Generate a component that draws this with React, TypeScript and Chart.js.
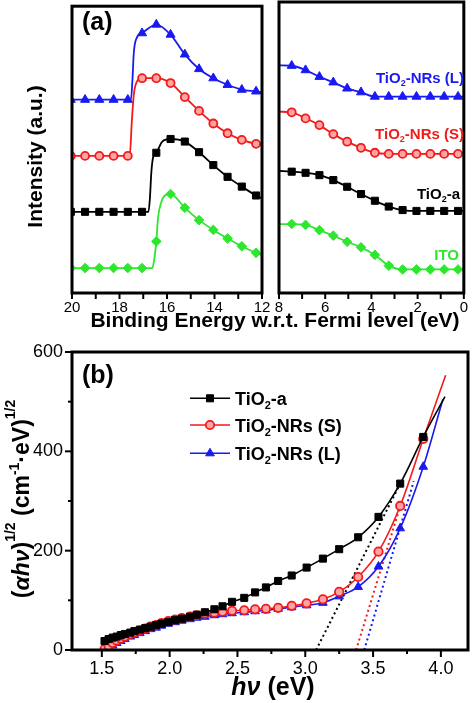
import React, { useEffect, useRef } from 'react';
import { Chart, registerables } from 'chart.js';

Chart.register(...registerables);

const FF = '"Liberation Sans", Arial, Helvetica, sans-serif';
const BLACK = '#000000';
const RED = '#f21a1a';
const RED_FILL = '#ffa4a4';
const BLUE = '#1a1af0';
const GREEN = '#2ee62e';

// ---------- Panel (a), left: binding energy 20 -> 12 eV (intensity, a.u., offset traces)
const aLeftMarkE = [20.05, 19.45, 18.85, 18.25, 17.65, 17.05, 16.45, 15.85, 15.25, 14.65, 14.05, 13.45, 12.85, 12.25];
const aLeftNRsL = [67.4, 67.4, 67.4, 67.4, 67.4, 90.6, 93.6, 90.1, 83.2, 78.1, 74.9, 72.6, 70.9, 70.3];
const aLeftNRsS = [47.8, 47.8, 47.8, 47.8, 47.8, 74.9, 74.9, 73.2, 68.3, 63.5, 59.1, 55.7, 53.4, 52.0];
const aLeftTiO2a = [28.3, 28.3, 28.3, 28.3, 28.3, 28.3, 48.9, 53.7, 52.8, 49.1, 44.6, 40.5, 37.1, 34.0];
const aLeftITO = [8.7, 8.7, 8.7, 8.7, 8.7, 8.7, 18.0, 34.5, 29.7, 25.4, 22.0, 19.0, 16.3, 14.0];
// trace points between markers (onset edge and trace end)
const aLeftNRsLKnotE = [17.52, 17.45, 17.4, 17.3, 12.0];
const aLeftNRsLKnotV = [67.4, 75.0, 83.5, 88.5, 70.0];
const aLeftNRsSKnotE = [17.57, 17.48, 17.4, 17.28, 12.0];
const aLeftNRsSKnotV = [47.8, 60.0, 69.0, 73.5, 51.6];
const aLeftTiO2aKnotE = [16.78, 16.72, 16.66, 16.58, 16.2, 12.0];
const aLeftTiO2aKnotV = [28.3, 33.0, 42.0, 47.5, 52.8, 33.0];
const aLeftITOKnotE = [16.62, 16.55, 16.38, 16.25, 16.05, 12.0];
const aLeftITOKnotV = [8.7, 11.0, 26.0, 31.5, 34.2, 13.2];

// ---------- Panel (a), right: binding energy 8 -> 0 eV (valence band region)
const aRightMarkE = [7.45, 6.85, 6.25, 5.65, 5.05, 4.45, 3.85, 3.25, 2.65, 2.05, 1.45, 0.85, 0.25];
const aRightNRsL = [78.1, 76.6, 74.3, 72.4, 70.3, 69.0, 67.5, 67.5, 67.5, 67.5, 67.5, 67.5, 67.5];
const aRightNRsS = [62.1, 60.0, 57.7, 54.6, 52.0, 49.9, 48.2, 47.8, 47.8, 47.8, 47.8, 47.8, 47.8];
const aRightTiO2a = [41.7, 41.3, 40.5, 38.8, 36.5, 34.0, 31.7, 29.7, 28.5, 28.2, 28.2, 28.2, 28.2];
const aRightITO = [23.7, 23.4, 21.6, 19.7, 17.6, 15.7, 13.1, 9.4, 8.1, 8.1, 8.1, 8.1, 8.1];
const aRightKnotE = [8.0, 0.0];
const aRightNRsLKnotV = [78.2, 67.5];
const aRightNRsSKnotV = [62.3, 47.8];
const aRightTiO2aKnotV = [42.0, 28.2];
const aRightITOKnotV = [23.7, 8.1];

// ---------- Panel (b): Tauc plot, hv (eV) vs (alpha h v)^1/2
const bE = [1.52, 1.55, 1.58, 1.61, 1.64, 1.67, 1.71, 1.74, 1.78, 1.82, 1.86, 1.90, 1.94, 1.99, 2.04, 2.09, 2.15, 2.20, 2.26, 2.33, 2.39, 2.46, 2.55, 2.63, 2.71, 2.80, 2.90, 3.01, 3.13, 3.25, 3.39, 3.54, 3.70, 3.87];
const bTiO2a = [18, 22, 25, 27, 30, 32, 35, 38, 41, 44, 47, 50, 53, 56, 60, 63, 67, 71, 76, 82, 88, 97, 105, 116, 126, 139, 150, 166, 184, 203, 227, 268, 335, 429];
const bNRsS = [2, 8, 14, 19, 23, 27, 32, 35, 39, 43, 47, 50, 54, 58, 61, 64, 67, 70, 73, 75, 77, 79, 80, 82, 83, 85, 89, 94, 102, 117, 147, 198, 290, 425];
const bNRsL = [0, 4, 9, 14, 18, 22, 27, 30, 34, 38, 42, 45, 49, 53, 56, 59, 62, 65, 67, 70, 72, 74, 76, 78, 80, 83, 86, 90, 95, 108, 127, 168, 245, 369];
const bTailE_a = [4.03];
const bTailV_a = [510];
const bTailE_S = [4.035];
const bTailV_S = [553];
const bTailE_L = [4.015];
const bTailV_L = [505];
// linear extrapolations (dotted)
const bFitE_a = [3.08, 3.7];
const bFitV_a = [0, 335];
const bFitE_S = [3.375, 3.71];
const bFitV_S = [0, 298];
const bFitE_L = [3.435, 3.8];
const bFitV_L = [0, 340];

const seriesLabels = ['TiO\u2082-a', 'TiO\u2082-NRs (S)', 'TiO\u2082-NRs (L)', 'ITO'];
const seriesSuffix = ['-a', '-NRs (S)', '-NRs (L)'];

type Pt = { x: number; y: number; m: boolean };

function mergePts(markE: number[], markV: number[], knotE: number[], knotV: number[], desc: boolean): Pt[] {
  const pts: Pt[] = markE.map((x, i) => ({ x, y: markV[i], m: true }))
    .concat(knotE.map((x, i) => ({ x, y: knotV[i], m: false })));
  pts.sort((p, q) => (desc ? q.x - p.x : p.x - q.x));
  return pts;
}

function curveDs(label: string, pts: Pt[], color: string, style: string, r: number, fill: string, bw: number, lw: number) {
  return {
    label,
    data: pts,
    borderColor: color,
    borderWidth: lw,
    pointStyle: style,
    pointRadius: (c: any) => (c.raw && c.raw.m ? r : 0),
    pointBackgroundColor: fill,
    pointBorderColor: color,
    pointBorderWidth: bw,
    cubicInterpolationMode: 'monotone',
    fill: false,
  };
}

type Seg = { t: string; size: number; style?: string; dy?: number };
const segFont = (s: Seg) => `${s.style || 'bold'} ${s.size}px ${FF}`;

function drawRich(ctx: CanvasRenderingContext2D, segs: Seg[], x: number, y: number, align: 'left' | 'center' | 'right') {
  let w = 0;
  segs.forEach((s) => { ctx.font = segFont(s); w += ctx.measureText(s.t).width; });
  let cx = align === 'left' ? x : align === 'right' ? x - w : x - w / 2;
  ctx.textAlign = 'left';
  ctx.textBaseline = 'alphabetic';
  segs.forEach((s) => {
    ctx.font = segFont(s);
    ctx.fillText(s.t, cx, y + (s.dy || 0));
    cx += ctx.measureText(s.t).width;
  });
}

function tio2(suffix: string, size: number): Seg[] {
  return [
    { t: 'TiO', size },
    { t: '2', size: Math.round(size * 0.6), dy: size * 0.25 },
    { t: suffix, size },
  ];
}

function frameTicks(chart: any, xMajor: (v: number) => boolean, yMajor: ((v: number) => boolean) | null, majorLen: number, minorLen: number, frameW: number) {
  const { ctx, chartArea: a } = chart;
  ctx.save();
  ctx.strokeStyle = BLACK;
  ctx.lineWidth = 2;
  const xs = chart.scales.x;
  xs.ticks.forEach((t: any) => {
    const px = xs.getPixelForValue(t.value);
    const len = xMajor(t.value) ? majorLen : minorLen;
    ctx.beginPath();
    ctx.moveTo(px, a.bottom);
    ctx.lineTo(px, a.bottom + len);
    ctx.stroke();
  });
  if (yMajor) {
    const ys = chart.scales.y;
    ys.ticks.forEach((t: any) => {
      const py = ys.getPixelForValue(t.value);
      const len = yMajor(t.value) ? majorLen : minorLen;
      ctx.beginPath();
      ctx.moveTo(a.left, py);
      ctx.lineTo(a.left - len, py);
      ctx.stroke();
    });
  }
  ctx.lineWidth = frameW;
  ctx.strokeRect(a.left, a.top, a.right - a.left, a.bottom - a.top);
  ctx.restore();
}

function drawMarker(ctx: CanvasRenderingContext2D, style: string, x: number, y: number, r: number, fill: string, stroke: string, lw: number) {
  ctx.beginPath();
  if (style === 'rect') {
    const s = r * Math.SQRT1_2;
    ctx.rect(x - s, y - s, 2 * s, 2 * s);
  } else if (style === 'circle') {
    ctx.arc(x, y, r, 0, Math.PI * 2);
  } else {
    ctx.moveTo(x, y - r);
    ctx.lineTo(x + r * 0.866, y + r * 0.5);
    ctx.lineTo(x - r * 0.866, y + r * 0.5);
    ctx.closePath();
  }
  ctx.fillStyle = fill;
  ctx.fill();
  ctx.lineWidth = lw;
  ctx.strokeStyle = stroke;
  ctx.stroke();
}

const baseOpts = {
  responsive: false,
  animation: false as const,
  devicePixelRatio: 1,
  events: [] as any[],
  plugins: { legend: { display: false }, tooltip: { enabled: false } },
};

function panelAX(min: number, max: number) {
  return {
    type: 'linear',
    reverse: true,
    min,
    max,
    ticks: {
      stepSize: 1,
      autoSkip: false,
      maxRotation: 0,
      minRotation: 0,
      includeBounds: false,
      maxTicksLimit: 100,
      color: BLACK,
      padding: 6,
      font: { family: FF, size: 15 },
      callback: (v: any) => (Math.round(Number(v)) % 2 === 0 ? String(Math.round(Number(v))) : ''),
    },
    grid: { display: false, drawTicks: false },
    border: { display: false },
    afterFit: (s: any) => { s.height = 30; },
  };
}

function cfgALeft(): any {
  return {
    type: 'line',
    data: {
      datasets: [
        curveDs(seriesLabels[2], mergePts(aLeftMarkE, aLeftNRsL, aLeftNRsLKnotE, aLeftNRsLKnotV, true), BLUE, 'triangle', 5.2, BLUE, 1, 1.8),
        curveDs(seriesLabels[1], mergePts(aLeftMarkE, aLeftNRsS, aLeftNRsSKnotE, aLeftNRsSKnotV, true), RED, 'circle', 4, RED_FILL, 1.8, 1.8),
        curveDs(seriesLabels[0], mergePts(aLeftMarkE, aLeftTiO2a, aLeftTiO2aKnotE, aLeftTiO2aKnotV, true), BLACK, 'rect', 5, BLACK, 1, 1.8),
        curveDs(seriesLabels[3], mergePts(aLeftMarkE, aLeftITO, aLeftITOKnotE, aLeftITOKnotV, true), GREEN, 'rectRot', 4.8, GREEN, 1, 1.8),
      ].map((d) => ({ ...d, clip: 0 })),
    },
    options: {
      ...baseOpts,
      layout: { padding: { left: 72, right: 212, top: 2, bottom: 17 } },
      scales: { x: panelAX(12, 20), y: { display: false, min: 0, max: 100 } },
    },
    plugins: [{
      id: 'aLeftDeco',
      afterDraw(chart: any) {
        frameTicks(chart, () => true, null, 6, 6, 3);
        const ctx = chart.ctx as CanvasRenderingContext2D;
        ctx.save();
        ctx.fillStyle = BLACK;
        drawRich(ctx, [{ t: '(a)', size: 25 }], 82, 30, 'left');
        drawRich(ctx, [{ t: 'Binding Energy w.r.t. Fermi level (eV)', size: 21 }], 275, 327, 'center');
        ctx.translate(41.5, 156.5);
        ctx.rotate(-Math.PI / 2);
        drawRich(ctx, [{ t: 'Intensity (a.u.)', size: 21 }], 0, 0, 'center');
        ctx.restore();
      },
    }],
  };
}

function cfgARight(): any {
  return {
    type: 'line',
    data: {
      datasets: [
        curveDs(seriesLabels[2], mergePts(aRightMarkE, aRightNRsL, aRightKnotE, aRightNRsLKnotV, true), BLUE, 'triangle', 5.2, BLUE, 1, 1.8),
        curveDs(seriesLabels[1], mergePts(aRightMarkE, aRightNRsS, aRightKnotE, aRightNRsSKnotV, true), RED, 'circle', 4, RED_FILL, 1.8, 1.8),
        curveDs(seriesLabels[0], mergePts(aRightMarkE, aRightTiO2a, aRightKnotE, aRightTiO2aKnotV, true), BLACK, 'rect', 5, BLACK, 1, 1.8),
        curveDs(seriesLabels[3], mergePts(aRightMarkE, aRightITO, aRightKnotE, aRightITOKnotV, true), GREEN, 'rectRot', 4.8, GREEN, 1, 1.8),
      ].map((d) => ({ ...d, clip: 0 })),
    },
    options: {
      ...baseOpts,
      layout: { padding: { left: 279, right: 4, top: 2, bottom: 17 } },
      scales: { x: panelAX(0, 8), y: { display: false, min: 0, max: 100 } },
    },
    plugins: [{
      id: 'aRightDeco',
      afterDraw(chart: any) {
        frameTicks(chart, () => true, null, 6, 6, 3);
        const ctx = chart.ctx as CanvasRenderingContext2D;
        ctx.save();
        ctx.fillStyle = BLUE;
        drawRich(ctx, tio2(seriesSuffix[2], 15), 464, 82.5, 'right');
        ctx.fillStyle = RED;
        drawRich(ctx, tio2(seriesSuffix[1], 15), 464, 138.5, 'right');
        ctx.fillStyle = BLACK;
        drawRich(ctx, tio2(seriesSuffix[0], 15), 460, 198.5, 'right');
        ctx.fillStyle = GREEN;
        drawRich(ctx, [{ t: seriesLabels[3], size: 15 }], 459, 259.5, 'right');
        ctx.restore();
      },
    }],
  };
}

function lineDs(label: string, xs: number[], ys: number[], color: string) {
  return {
    label,
    data: xs.map((x, i) => ({ x, y: ys[i] })),
    borderColor: color,
    borderWidth: 2,
    borderDash: [2, 3],
    pointRadius: 0,
    fill: false,
  };
}

function cfgB(): any {
  return {
    type: 'line',
    data: {
      datasets: [
        curveDs(seriesLabels[0], mergePts(bE, bTiO2a, bTailE_a, bTailV_a, false), BLACK, 'rect', 5, BLACK, 1, 1.6),
        curveDs(seriesLabels[1], mergePts(bE, bNRsS, bTailE_S, bTailV_S, false), RED, 'circle', 4.2, RED_FILL, 1.8, 1.6),
        curveDs(seriesLabels[2], mergePts(bE, bNRsL, bTailE_L, bTailV_L, false), BLUE, 'triangle', 5, BLUE, 1, 1.6),
        lineDs('fit a', bFitE_a, bFitV_a, BLACK),
        lineDs('fit S', bFitE_S, bFitV_S, RED),
        lineDs('fit L', bFitE_L, bFitV_L, BLUE),
      ],
    },
    options: {
      ...baseOpts,
      layout: { padding: { left: 0, right: 3, top: 22, bottom: 13 } },
      scales: {
        x: {
          type: 'linear',
          min: 1.28,
          max: 4.2,
          ticks: {
            stepSize: 0.25,
            autoSkip: false,
            maxRotation: 0,
            minRotation: 0,
            includeBounds: false,
            maxTicksLimit: 100,
            color: BLACK,
            padding: 8,
            font: { family: FF, size: 18 },
            callback: (v: any) => {
              const n = Number(v);
              return Math.abs(n * 2 - Math.round(n * 2)) < 1e-6 ? n.toFixed(1) : '';
            },
          },
          grid: { display: false, drawTicks: false },
          border: { display: false },
          afterFit: (s: any) => { s.height = 40; },
        },
        y: {
          type: 'linear',
          min: 0,
          max: 600,
          ticks: {
            stepSize: 100,
            autoSkip: false,
            includeBounds: false,
            color: BLACK,
            padding: 9,
            font: { family: FF, size: 18 },
            callback: (v: any) => (Math.round(Number(v)) % 200 === 0 ? String(Math.round(Number(v))) : ''),
          },
          grid: { display: false, drawTicks: false },
          border: { display: false },
          afterFit: (s: any) => { s.width = 72; },
        },
      },
    },
    plugins: [{
      id: 'bDeco',
      afterDraw(chart: any) {
        frameTicks(
          chart,
          (v) => Math.abs(v * 2 - Math.round(v * 2)) < 1e-6,
          (v) => Math.round(v) % 200 === 0,
          7, 4, 3,
        );
        const ctx = chart.ctx as CanvasRenderingContext2D;
        ctx.save();
        ctx.fillStyle = BLACK;
        drawRich(ctx, [{ t: '(b)', size: 25 }], 82, 52.5, 'left');
        // legend
        const rows = [
          { y: 68.3, color: BLACK, style: 'rect', r: 5, fill: BLACK, bw: 1 },
          { y: 95, color: RED, style: 'circle', r: 4.2, fill: RED_FILL, bw: 1.8 },
          { y: 123.3, color: BLUE, style: 'triangle', r: 5, fill: BLUE, bw: 1 },
        ];
        rows.forEach((row, i) => {
          ctx.strokeStyle = row.color;
          ctx.lineWidth = 1.6;
          ctx.beginPath();
          ctx.moveTo(190, row.y);
          ctx.lineTo(230, row.y);
          ctx.stroke();
          drawMarker(ctx, row.style, 210, row.y, row.r, row.fill, row.color, row.bw);
          ctx.fillStyle = BLACK;
          drawRich(ctx, tio2(seriesSuffix[i], 18), 235, row.y + 6.5, 'left');
        });
        // x-axis title
        ctx.fillStyle = BLACK;
        drawRich(ctx, [
          { t: 'h\u03BD', size: 25, style: 'italic bold' },
          { t: ' (eV)', size: 25 },
        ], 273, 364.5, 'center');
        // y-axis title
        ctx.translate(29, 169);
        ctx.rotate(-Math.PI / 2);
        drawRich(ctx, [
          { t: '(', size: 23 },
          { t: '\u03B1h\u03BD', size: 23, style: 'italic bold' },
          { t: ')', size: 23 },
          { t: '1/2', size: 14, dy: -14 },
          { t: ' (cm', size: 23 },
          { t: '-1', size: 14, dy: -10 },
          { t: '\u00B7eV)', size: 23 },
          { t: '1/2', size: 14, dy: -14 },
        ], 0, 0, 'center');
        ctx.restore();
      },
    }],
  };
}

export default function App() {
  const refAL = useRef<HTMLCanvasElement>(null);
  const refAR = useRef<HTMLCanvasElement>(null);
  const refB = useRef<HTMLCanvasElement>(null);

  useEffect(() => {
    Chart.defaults.font.family = FF;
    const charts: Chart[] = [];
    if (refAL.current) charts.push(new Chart(refAL.current, cfgALeft()));
    if (refAR.current) charts.push(new Chart(refAR.current, cfgARight()));
    if (refB.current) charts.push(new Chart(refB.current, cfgB()));
    return () => charts.forEach((c) => c.destroy());
  }, []);

  const abs = (top: number, h: number): React.CSSProperties => ({
    position: 'absolute', left: 0, top, width: 474, height: h, display: 'block',
  });

  return (
    <div style={{ position: 'absolute', left: 0, top: 0, width: 474, height: 703, background: '#ffffff', overflow: 'hidden' }}>
      <canvas ref={refAL} width={474} height={340} style={abs(0, 340)} />
      <canvas ref={refAR} width={474} height={340} style={abs(0, 340)} />
      <canvas ref={refB} width={474} height={373} style={abs(330, 373)} />
    </div>
  );
}
